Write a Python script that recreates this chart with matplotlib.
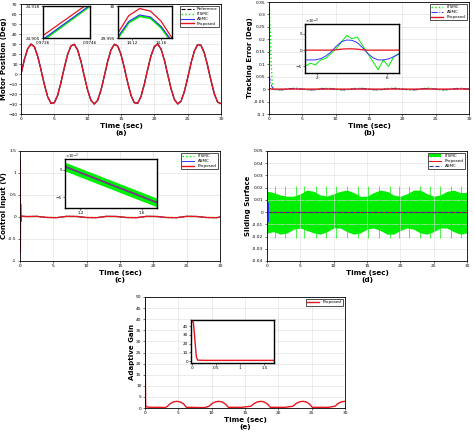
import numpy as np
import matplotlib.pyplot as plt

plt.rcParams['font.family'] = 'DejaVu Sans'
plt.rcParams['font.size'] = 3.5

# ---- (a) motor position
t_a = np.arange(0, 30.01, 0.5)
pos = [0, 14.4, 25.2, 29.9, 27.3, 17.9, 4.2, -10.5, -22.7, -29.3, -28.8, -21.2, -8.4, 6.5,
       19.7, 28.1, 29.7, 23.9, 12.4, -2.3, -16.3, -26.4, -30.0, -26.3, -16.1, -2.0, 12.6,
       24.1, 29.7, 28.1, 19.5, 6.2, -8.6, -21.4, -28.8, -29.3, -22.5, -10.2, 4.5, 18.2,
       27.4, 29.9, 25.1, 14.1, -0.3, -14.6, -25.4, -29.9, -27.2, -17.7, -4.0, 10.8, 22.9,
       29.4, 28.7, 21.0, 8.1, -6.7, -19.9, -28.2, -29.6]
z1_x = [0.9726, 0.9746]
z1_red = [24.906, 24.9195]
z1_blue = [24.9045, 24.9183]
z1_green = [24.904, 24.9180]
z2_x = [14.10, 14.115, 14.13, 14.145, 14.16, 14.175]
z2_red = [29.9958, 29.9985, 29.9996, 29.9992, 29.9976, 29.9950]
z2_blue = [29.9952, 29.9976, 29.9986, 29.9983, 29.9968, 29.9945]
z2_green = [29.9950, 29.9974, 29.9984, 29.9981, 29.9966, 29.9943]

# ---- (b) tracking error
t_b = [0, 0.05, 0.15, 0.3, 0.45, 0.6, 1, 2, 3, 4, 5, 6, 7, 8, 9, 10, 11, 12, 13, 14, 15, 16,
       17, 18, 19, 20, 21, 22, 23, 24, 25, 26, 27, 28, 29, 30]
err_itsmc = [0.0, 0.33, 0.25, 0.12, 0.04, 0.0, -0.002, -0.003, 0.002, 0.004, 0.0, -0.004, -0.002,
             0.003, 0.003, -0.001, -0.004, -0.001, 0.003, 0.003, 0.0, -0.004, -0.002, 0.003,
             0.004, 0.0, -0.003, -0.003, 0.002, 0.004, 0.0, -0.004, -0.002, 0.003, 0.003, 0.0]
err_asmc = [0.0, 0.05, 0.04, 0.02, 0.01, 0.0, -0.003, -0.003, 0.002, 0.003, 0.0, -0.003, -0.003,
            0.002, 0.003, 0.0, -0.003, -0.002, 0.002, 0.003, 0.0, -0.003, -0.002, 0.002, 0.003,
            0.0, -0.003, -0.003, 0.002, 0.003, 0.0, -0.003, -0.002, 0.002, 0.003, 0.0]
err_prop = [0.0, 0.003, 0.002, 0.001, 0.0, 0.0, 0.0, 0.0, 0.0003, 0.0003, 0.0, 0.0, 0.0, 0.0003,
            0.0003, 0.0, 0.0, 0.0, 0.0003, 0.0003, 0.0, 0.0, 0.0, 0.0003, 0.0003, 0.0, 0.0, 0.0,
            0.0003, 0.0003, 0.0, 0.0, 0.0, 0.0003, 0.0003, 0.0]
ib_t = [1.3, 1.6, 1.9, 2.2, 2.5, 2.8, 3.1, 3.4, 3.7, 4.0, 4.3, 4.6, 4.9, 5.2, 5.5, 5.8, 6.1, 6.4, 6.7]
ib_itsmc = [-5, -4, -4.5, -3, -2.5, -1, 0.5, 2.5, 4.5, 3.5, 4, 1.5, -1, -3.5, -6, -3, -5, -2, -1]
ib_asmc = [-3, -3, -3, -2.6, -1.8, -0.5, 1.2, 2.6, 3.1, 3, 2.3, 0.8, -1, -2.3, -3, -3, -2.7, -2, -1.2]
ib_prop = [0, 0, 0, 0, 0, 0, 0.1, 0.3, 0.4, 0.4, 0.3, 0.1, 0, 0, 0, 0, 0, 0, 0]

# ---- (c) control input
t_c = [0, 0.02, 0.05, 0.08, 0.12, 0.2, 1, 2.5, 4, 5.5, 7, 8.5, 10, 11.5, 13, 14.5, 16, 17.5, 19,
       20.5, 22, 23.5, 25, 26.5, 28, 29.5, 30]
u_ctrl = [0, 1.3, -0.8, 0.3, -0.1, 0.02, 0.01, 0.015, -0.01, -0.015, 0.015, 0.012, -0.012, -0.015,
          0.015, 0.012, -0.012, -0.015, 0.015, 0.012, -0.012, -0.015, 0.015, 0.012, -0.012, -0.015, 0.0]
ic_t = [1.1, 1.7]
ic_mid = [6.2, -7.0]
ic_band = 1.6

# ---- (d) sliding surface
t_d = [0, 0.1, 1, 2, 3, 4, 5, 6, 7, 8, 9, 10, 11, 12, 13, 14, 15, 16, 17, 18, 19, 20, 21, 22, 23,
       24, 25, 26, 27, 28, 29, 30]
s_top = [0.028, 0.017, 0.016, 0.014, 0.013, 0.013, 0.015, 0.018, 0.017, 0.014, 0.013, 0.015,
         0.017, 0.018, 0.016, 0.013, 0.013, 0.016, 0.018, 0.017, 0.014, 0.013, 0.015, 0.018,
         0.018, 0.015, 0.013, 0.014, 0.017, 0.018, 0.016, 0.016]
s_bot = [-0.028, -0.017, -0.016, -0.018, -0.017, -0.014, -0.013, -0.015, -0.017, -0.018, -0.016,
         -0.013, -0.013, -0.016, -0.018, -0.017, -0.014, -0.013, -0.015, -0.018, -0.018, -0.015,
         -0.013, -0.014, -0.017, -0.018, -0.016, -0.013, -0.013, -0.016, -0.018, -0.017]
spike_t = [1.2, 2.7, 4.3, 5.6, 7.4, 8.9, 10.4, 12.0, 13.6, 15.2, 16.8, 18.4, 19.8, 21.3, 22.9,
           24.5, 26.0, 27.6, 29.1]

# ---- (e) adaptive gain
t_e = [0, 0.02, 0.05, 0.1, 0.3, 1, 2, 3, 3.3, 3.8, 4.3, 4.8, 5.3, 5.8, 6.2, 7, 8, 9, 9.6, 10.1,
       10.6, 11.1, 11.6, 12.1, 12.5, 13.5, 14.5, 15.9, 16.4, 16.9, 17.4, 17.9, 18.4, 18.8, 20,
       21, 22.2, 22.7, 23.2, 23.7, 24.2, 24.7, 25.1, 26, 27.5, 28.5, 29, 29.5, 30]
gain = [50, 40, 15, 1, 0.4, 0.3, 0.3, 0.2, 0.6, 2, 2.8, 3.0, 2.7, 1.8, 0.3, 0.3, 0.2, 0.2, 0.8, 2.1,
        2.8, 3.0, 2.7, 1.7, 0.3, 0.3, 0.3, 0.8, 2.1, 2.8, 3.0, 2.7, 1.7, 0.3, 0.3, 0.3, 0.8, 2.1,
        2.8, 3.0, 2.7, 1.7, 0.3, 0.3, 0.3, 0.8, 2.1, 2.8, 3.0]
ie_t = [0, 0.03, 0.06, 0.09, 0.12, 0.3, 1.0, 1.7]
ie_gain = [46, 44, 25, 5, 1.2, 1.0, 1.0, 1.0]

W, H = 474, 434
fig = plt.figure(figsize=(4.74, 4.34), dpi=100)


def add_ax(l, r, t, b):
    return fig.add_axes([l / W, 1 - b / H, (r - l) / W, (b - t) / H])


def style(ax, ylab, tag, xlab=True):
    ax.grid(True, color='#dddddd', lw=0.4)
    ax.tick_params(labelsize=3.2, length=1.5, width=0.4, pad=1)
    for s in ax.spines.values():
        s.set_linewidth(0.6)
    ax.set_ylabel(ylab, fontsize=5, fontweight='bold', labelpad=1)
    if xlab:
        ax.set_xlabel('Time (sec)\n' + tag, fontsize=5.2, fontweight='bold', labelpad=1,
                      linespacing=1.3)


def inset(l, r, t, b):
    ax = add_ax(l, r, t, b)
    ax.tick_params(labelsize=3, length=1.2, width=0.4, pad=1)
    for s in ax.spines.values():
        s.set_linewidth(1.0)
    return ax


def leg(ax, **kw):
    lg = ax.legend(loc='upper right', fontsize=3, frameon=True, fancybox=False,
                   edgecolor='black', handlelength=3, borderpad=0.3, labelspacing=0.2, **kw)
    lg.get_frame().set_linewidth(0.6)


# (a)
ax = add_ax(21, 221, 4, 114)
ax.plot(t_a, pos, 'k--', lw=0.8, label='Reference')
ax.plot(t_a, pos, color='#00ee00', ls=':', lw=1.0, label='ITSMC')
ax.plot(t_a, pos, color='#3333ff', lw=0.8, label='ASMC')
ax.plot(t_a, pos, color='#e8131b', lw=1.0, label='Proposed')
ax.set_xlim(0, 30); ax.set_ylim(-40, 70)
ax.set_xticks(range(0, 31, 5)); ax.set_yticks(range(-40, 71, 10))
style(ax, 'Motor Position (Deg)', '(a)')
leg(ax)
ia = inset(43, 90, 6, 38)
ia.plot(z1_x, z1_green, color='#00ee00', lw=1.4)
ia.plot(z1_x, z1_blue, color='#3333ff', lw=0.8)
ia.plot(z1_x, z1_red, color='#e8131b', lw=0.9)
ia.set_xlim(0.9726, 0.9746); ia.set_ylim(24.905, 24.918)
ia.set_xticks([0.9726, 0.9746]); ia.set_yticks([24.905, 24.918])
ia.set_xticklabels(['0.9726', '0.9746']); ia.set_yticklabels(['24.905', '24.918'])
ia2 = inset(118, 172, 6, 38)
ia2.plot(z2_x, z2_green, color='#00ee00', lw=1.4)
ia2.plot(z2_x, z2_blue, color='#3333ff', lw=0.8)
ia2.plot(z2_x, z2_red, color='#e8131b', lw=0.9)
ia2.set_xlim(14.10, 14.175); ia2.set_ylim(29.995, 30.0)
ia2.set_xticks([14.12, 14.16]); ia2.set_yticks([29.995, 30.0])
ia2.set_xticklabels(['14.12', '14.16']); ia2.set_yticklabels(['29.995', '30'])

# (b)
ax = add_ax(269, 469, 2, 114)
ax.plot(t_b, err_itsmc, color='#00ee00', ls=':', lw=1.0, label='ITSMC')
ax.plot(t_b, err_asmc, color='#3333ff', ls='-.', lw=0.7, label='ASMC')
ax.plot(t_b, err_prop, color='#e8131b', lw=1.0, label='Proposed')
ax.set_xlim(0, 30); ax.set_ylim(-0.1, 0.35)
ax.set_xticks(range(0, 31, 5)); ax.set_yticks(np.arange(-0.1, 0.351, 0.05))
ax.set_yticklabels(['-0.1', '-0.05', '0', '0.05', '0.1', '0.15', '0.2', '0.25', '0.3', '0.35'])
style(ax, 'Tracking Error (Deg)', '(b)')
leg(ax)
ib = inset(305, 399, 24, 73)
ib.plot(ib_t, ib_itsmc, color='#00ee00', lw=0.7)
ib.plot(ib_t, ib_asmc, color='#3333ff', lw=0.7)
ib.plot(ib_t, ib_prop, color='#e8131b', lw=0.9)
ib.set_xlim(1.3, 6.7); ib.set_ylim(-7, 8)
ib.set_xticks([2, 6]); ib.set_yticks([-5, 0, 5])
ib.text(0, 1.01, r'$\times10^{-3}$', transform=ib.transAxes, fontsize=2.8)

# (c)
ax = add_ax(20, 220, 151, 261)
ax.plot(t_c, u_ctrl, color='#00ee00', ls=':', lw=1.0, label='ITSMC')
ax.plot(t_c, u_ctrl, color='#3333ff', lw=0.7, label='ASMC')
ax.plot(t_c, u_ctrl, color='#e8131b', lw=1.0, label='Proposed')
ax.set_xlim(0, 30); ax.set_ylim(-1, 1.5)
ax.set_xticks(range(0, 31, 5)); ax.set_yticks([-1, -0.5, 0, 0.5, 1, 1.5])
ax.set_yticklabels(['-1', '-0.5', '0', '0.5', '1', '1.5'])
style(ax, 'Control Input (V)', '(c)')
leg(ax)
ic = inset(65, 157, 159, 208)
ic.fill_between(ic_t, [v + ic_band for v in ic_mid], [v - ic_band for v in ic_mid],
                color='#00ee00', lw=0)
ic.plot(ic_t, ic_mid, color='#3333ff', lw=1.2)
ic.plot(ic_t, ic_mid, color='#c0302a', lw=0.6)
ic.set_xlim(1.1, 1.7); ic.set_ylim(-9, 9)
ic.set_xticks([1.2, 1.6]); ic.set_yticks([-5, 5])
ic.text(0, 1.01, r'$\times10^{-3}$', transform=ic.transAxes, fontsize=2.8)

# (d)
ax = add_ax(267, 467, 151, 261)
ax.fill_between(t_d, s_top, s_bot, color='#00ee00', lw=0, label='ITSMC')
ax.vlines(spike_t, -0.021, 0.021, color='#00ee00', lw=0.5)
ax.plot([0, 30], [0, 0], color='#e8131b', lw=0.8, label='Proposed')
ax.plot([0, 30], [0, 0], color='#2b3a8c', ls='--', lw=0.8, label='ASMC')
ax.vlines([0.1], -0.008, 0.008, color='#3333ff', lw=0.8)
ax.set_xlim(0, 30); ax.set_ylim(-0.04, 0.05)
ax.set_xticks(range(0, 31, 5)); ax.set_yticks(np.arange(-0.04, 0.051, 0.01))
ax.set_yticklabels(['-0.04', '-0.03', '-0.02', '-0.01', '0', '0.01', '0.02', '0.03', '0.04', '0.05'])
style(ax, 'Sliding Surface', '(d)')
leg(ax)

# (e)
ax = add_ax(145, 345, 297, 408)
ax.plot(t_e, gain, color='#e8131b', lw=1.0, label='Proposed')
ax.set_xlim(0, 30); ax.set_ylim(0, 50)
ax.set_xticks(range(0, 31, 5)); ax.set_yticks(range(0, 51, 5))
style(ax, 'Adaptive Gain', '(e)')
leg(ax)
ie = inset(191, 274, 320, 363)
ie.plot(ie_t, ie_gain, color='#e8131b', lw=1.0)
ie.set_xlim(-0.02, 1.7); ie.set_ylim(-2, 47)
ie.set_xticks([0, 0.5, 1, 1.5]); ie.set_xticklabels(['0', '0.5', '1', '1.5'])
ie.set_yticks([0, 10, 20, 30, 40])

fig.savefig('out.png', dpi=100)
